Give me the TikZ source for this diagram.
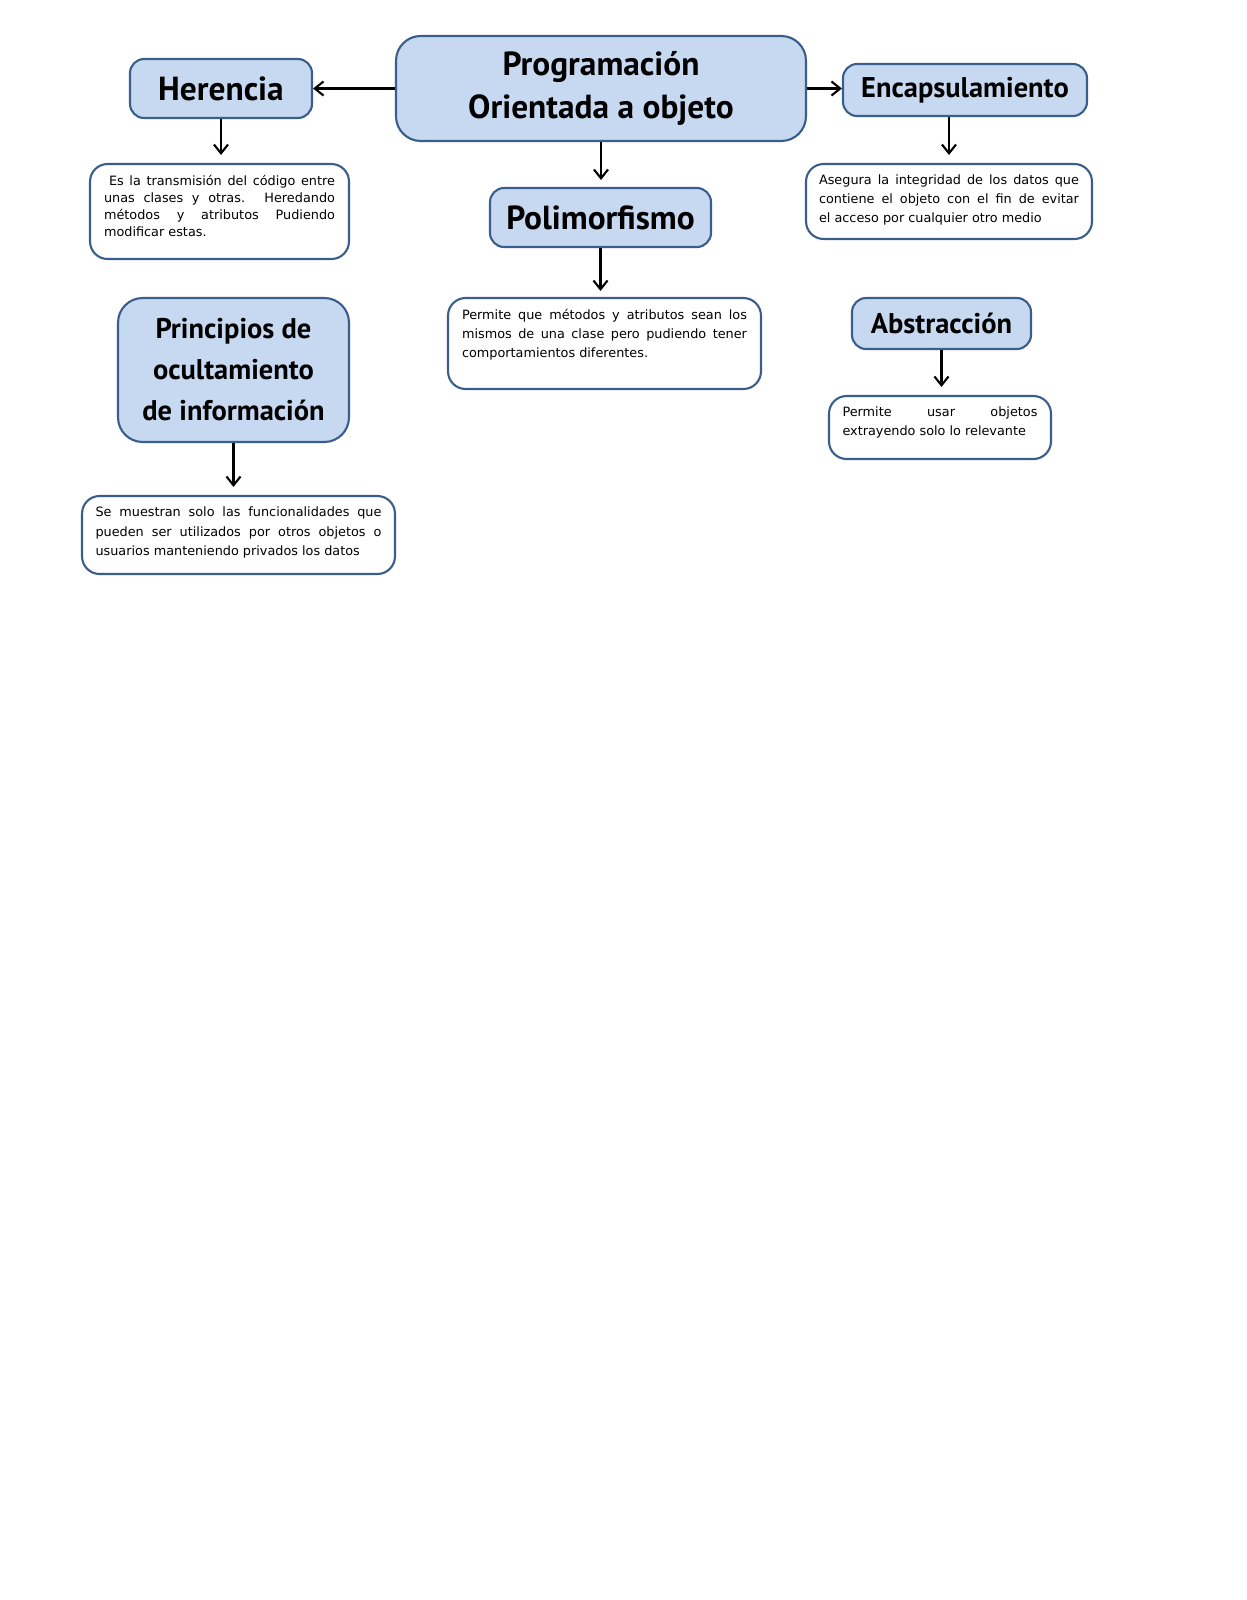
\documentclass[tikz,border=0pt]{standalone}
\usepackage{fontspec}
\setmainfont{DejaVu Sans}
\newfontfamily\headfont{PT Sans}
\usetikzlibrary{arrows.meta}

\definecolor{boxfill}{HTML}{C6D9F1}
\definecolor{boxedge}{HTML}{3A5E8C}

% text of a description box, top aligned
\newcommand{\notetext}[3]{\parbox[c][#2][t]{#1}{\hyphenpenalty=10000 #3}}

\tikzset{
  topic/.style={draw=boxedge, fill=boxfill, line width=1.2pt,
    rounded corners=8, align=center, inner sep=0pt,
    font=\headfont\bfseries\fontsize{19}{24.5}\selectfont},
  subtopic/.style={topic, font=\headfont\bfseries\fontsize{16.2}{23.3}\selectfont},
  note/.style={draw=boxedge, fill=white, line width=1.2pt,
    rounded corners=10, inner sep=0pt,
    font=\fontsize{7.3}{11}\selectfont},
  link/.style={-{Straight Barb[length=5pt,width=8pt,line width=1.2pt]},
    line width=1.2pt, shorten >=0.16cm}
}

\begin{document}
\begin{tikzpicture}[x=0.02cm, y=-0.02cm]
  \useasboundingbox[fill=white] (0,0) rectangle (1247,1600);
  % main topic and its branches
  \node[topic, rounded corners=14, minimum width=8.2cm, minimum height=2.1cm]
    (poo) at (601,88.5) {Programación\\Orientada a objeto};
  \node[topic, minimum width=3.64cm, minimum height=1.18cm]
    (herencia) at (221,88.5) {Herencia};
  \node[subtopic, minimum width=4.88cm, minimum height=1.04cm]
    (encap) at (965,90) {Encapsulamiento};
  \node[topic, minimum width=4.42cm, minimum height=1.18cm]
    (poli) at (600.5,217.5) {Polimorfismo};
  \node[subtopic, rounded corners=14, minimum width=4.62cm, minimum height=2.88cm]
    (ocult) at (233.5,370) {Principios de\\ocultamiento\\de información};
  \node[subtopic, minimum width=3.58cm, minimum height=1.02cm]
    (abst) at (941.5,323.5) {Abstracción};
  % descriptions
  \node[note, minimum width=5.18cm, minimum height=1.9cm,
        font=\fontsize{7.3}{9.7}\selectfont]
    (herencia-txt) at (219.5,211.5)
    {\notetext{4.62cm}{1.46cm}{\hspace*{0.1cm}Es la transmisión del código entre\linebreak
     unas clases y otras. Heredando\linebreak
     métodos y atributos Pudiendo\linebreak
     modificar estas.}};
  \node[note, minimum width=5.72cm, minimum height=1.5cm,
        font=\fontsize{7.3}{10.8}\selectfont]
    (encap-txt) at (949,201.5)
    {\notetext{5.2cm}{1.06cm}{Asegura la integridad de los datos que\linebreak
     contiene el objeto con el fin de evitar\linebreak
     el acceso por cualquier otro medio}};
  \node[note, minimum width=6.26cm, minimum height=1.82cm]
    (poli-txt) at (604.5,343.5)
    {\notetext{5.7cm}{1.38cm}{Permite que métodos y atributos sean los\linebreak
     mismos de una clase pero pudiendo tener\linebreak
     comportamientos diferentes.}};
  \node[note, minimum width=6.26cm, minimum height=1.56cm]
    (ocult-txt) at (238.5,535)
    {\notetext{5.72cm}{1.12cm}{Se muestran solo las funcionalidades que\linebreak
     pueden ser utilizados por otros objetos o\linebreak
     usuarios manteniendo privados los datos}};
  \node[note, minimum width=4.44cm, minimum height=1.26cm,
        font=\fontsize{7.3}{10.8}\selectfont]
    (abst-txt) at (940,427.5)
    {\notetext{3.9cm}{0.82cm}{Permite usar objetos\linebreak
     extrayendo solo lo relevante}};
  % connectors
  \draw[link, shorten >=0pt] (poo.west) -- (herencia.east);
  \draw[link, shorten >=0pt] (poo.east) -- (poo.east -| encap.west);
  \draw[link, shorten >=0.14cm] (poo.south) -- (poo.south |- poli.north);
  \draw[link] (herencia.south) -- (herencia.south |- herencia-txt.north);
  \draw[link] (encap.south -| encap-txt.north) -- (encap-txt.north);
  \draw[link, shorten >=0.12cm] (poli.south) -- (poli.south |- poli-txt.north);
  \draw[link] (ocult.south) -- (ocult.south |- ocult-txt.north);
  \draw[link] (abst.south) -- (abst.south |- abst-txt.north);
\end{tikzpicture}
\end{document}
